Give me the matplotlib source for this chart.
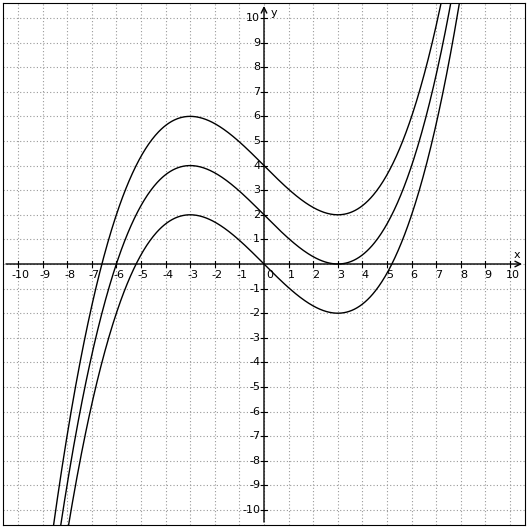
import numpy as np
import matplotlib
matplotlib.use("Agg")
import matplotlib.pyplot as plt

# cubic y = a*x^3 + b*x + c, with offsets
a_coef = 1/27
b_coef = -1.0
offsets = [0, 2, 4]
ticks = list(range(-10, 11))

fig = plt.figure(figsize=(5.28, 5.28), dpi=100)
ax = fig.add_axes([0.006, 0.006, 0.988, 0.988])
ax.set_xlim(-10.6, 10.6)
ax.set_ylim(-10.6, 10.6)
for t in ticks:
    ax.axvline(t, color='#999999', lw=0.8, ls=(0, (1, 2)), zorder=0)
    ax.axhline(t, color='#999999', lw=0.8, ls=(0, (1, 2)), zorder=0)
x = np.linspace(-10.6, 10.6, 800)
for c in offsets:
    ax.plot(x, a_coef*x**3 + b_coef*x + c, color='black', lw=1)
ax.annotate('', xy=(10.6, 0), xytext=(-10.6, 0), arrowprops=dict(arrowstyle='->', lw=1, color='black'))
ax.annotate('', xy=(0, 10.6), xytext=(0, -10.6), arrowprops=dict(arrowstyle='->', lw=1, color='black'))
for t in ticks:
    if t == 0:
        continue
    ax.plot([t, t], [-0.12, 0.12], color='black', lw=0.8)
    ax.plot([-0.12, 0.12], [t, t], color='black', lw=0.8)
    ax.text(t + 0.1, -0.25, str(t), ha='center', va='top', fontsize=8)
    ax.text(-0.15, t, str(t), ha='right', va='center', fontsize=8)
ax.text(0.1, -0.25, '0', ha='left', va='top', fontsize=8)
ax.text(10.3, 0.15, 'x', fontsize=8, ha='center', va='bottom')
ax.text(0.4, 10.2, 'y', fontsize=8, ha='center', va='center')
ax.set_xticks([]); ax.set_yticks([])
for s in ax.spines.values():
    s.set_color('black'); s.set_linewidth(0.8)
fig.savefig('out.png', dpi=100)
